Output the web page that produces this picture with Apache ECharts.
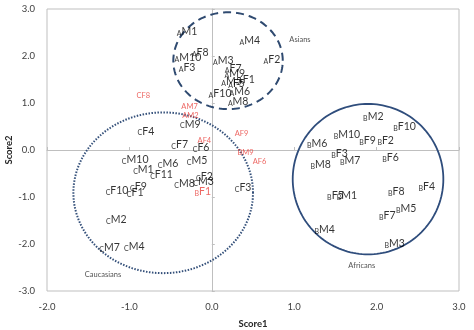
<!DOCTYPE html>
<html><head><meta charset="utf-8">
<script src="https://cdn.jsdelivr.net/npm/echarts@6/dist/echarts.min.js"></script>
<style>html,body{margin:0;padding:0;background:#fff}#c{width:474px;height:330px}</style>
</head><body><div id="c"></div>
<script>
// Axis ticks
const xTicks = [-2, -1, 0, 1, 2, 3];
const yTicks = [-3, -2, -1, 0, 1, 2, 3];

// Asian samples [score1, score2, label]
const asians = [
  [-0.30, 2.52, 'AM1'], [-0.14, 2.09, 'AF8'], [-0.29, 1.97, 'AM10'], [-0.30, 1.76, 'AF3'],
  [0.46, 2.34, 'AM4'], [0.73, 1.94, 'AF2'], [0.14, 1.91, 'AM3'], [0.26, 1.74, 'AF7'],
  [0.28, 1.63, 'AM9'], [0.42, 1.50, 'AF1'], [0.24, 1.47, 'AM5'], [0.30, 1.42, 'AF5'],
  [0.34, 1.26, 'AM6'], [0.10, 1.21, 'AF10'], [0.32, 1.04, 'AM8']
];
// Caucasian samples
const caucasians = [
  [-0.26, 0.56, 'CM9'], [-0.80, 0.41, 'CF4'], [-0.39, 0.12, 'CF7'], [-0.13, 0.06, 'CF6'],
  [-0.93, -0.20, 'CM10'], [-0.53, -0.28, 'CM6'], [-0.18, -0.21, 'CM5'], [-0.83, -0.40, 'CM1'],
  [-0.61, -0.51, 'CF11'], [-0.09, -0.55, 'CF2'], [-0.33, -0.71, 'CM8'], [-0.10, -0.67, 'CM3'],
  [-1.15, -0.85, 'CF10'], [-0.89, -0.77, 'CF9'], [-0.93, -0.90, 'CF1'], [0.38, -0.79, 'CF3'],
  [-1.16, -1.47, 'CM2'], [-1.24, -2.06, 'CM7'], [-0.94, -2.04, 'CM4']
];
// African samples
const africans = [
  [1.96, 0.72, 'BM2'], [2.34, 0.50, 'BF10'], [1.64, 0.34, 'BM10'], [1.89, 0.21, 'BF9'],
  [2.11, 0.20, 'BF2'], [1.28, 0.14, 'BM6'], [1.55, -0.07, 'BF3'], [1.68, -0.21, 'BM7'],
  [2.17, -0.16, 'BF6'], [1.32, -0.30, 'BM8'], [1.50, -0.96, 'BF5'], [1.64, -0.96, 'BM1'],
  [2.24, -0.87, 'BF8'], [2.61, -0.77, 'BF4'], [2.36, -1.24, 'BM5'], [2.13, -1.38, 'BF7'],
  [1.37, -1.68, 'BM4'], [2.22, -1.99, 'BM3']
];
// Misclassified samples (red)
const misfits = [
  [-0.83, 1.16, 'CF8'], [-0.27, 0.92, 'AM7'], [-0.26, 0.74, 'AM2'], [0.36, 0.36, 'AF9'],
  [-0.09, 0.21, 'AF4'], [0.41, -0.05, 'BM9'], [0.58, -0.25, 'AF6']
];
const misfitsLarge = [[-0.11, -0.87, 'BF1']];
// Group names
const groupLabels = [[1.07, 2.36, 'Asians'], [1.82, -2.46, 'Africans'], [-1.32, -2.64, 'Caucasians']];
// Group ellipses [cx, cy, rx, ry]
const ellAsian = [0.197, 1.90, 0.664, 1.03];
const ellCauc = [-0.59, -0.91, 1.09, 1.71];
const ellAfr = [1.896, -0.62, 0.914, 1.60];

const FONT = 'Lato, "Open Sans", sans-serif';
const toItems = arr => arr.map(d => ({ value: [d[0], d[1]], name: d[2] }));

function labelSeries(arr, color, big) {
  return {
    type: 'scatter', data: toItems(arr), symbolSize: 0, silent: true, z: 5,
    label: {
      show: true, position: 'inside', fontFamily: FONT,
      formatter: big ? (p => '{p|' + p.name[0] + '}{m|' + p.name.slice(1) + '}') : (p => '{s|' + p.name + '}'),
      rich: {
        p: { fontSize: 7, color: color, fontFamily: FONT, verticalAlign: 'bottom', lineHeight: 12 },
        m: { fontSize: 10.5, color: color, fontFamily: FONT, verticalAlign: 'bottom', lineHeight: 12 },
        s: { fontSize: 7.5, color: color, fontFamily: FONT }
      }
    }
  };
}

function ellipseSeries(e, style) {
  return {
    type: 'custom', silent: true, z: 3, data: [e],
    renderItem: function (params, api) {
      const cx = api.value(0), cy = api.value(1), rx = api.value(2), ry = api.value(3);
      const pts = [];
      for (let i = 0; i < 160; i++) {
        const t = i / 160 * Math.PI * 2;
        pts.push(api.coord([cx + rx * Math.cos(t), cy + ry * Math.sin(t)]));
      }
      return { type: 'polygon', shape: { points: pts }, style: Object.assign({ fill: 'none' }, style) };
    }
  };
}

const chart = echarts.init(document.getElementById('c'), null, { renderer: 'canvas' });
const axisLbl = { fontFamily: FONT, fontSize: 9.5, color: '#404040', formatter: v => v.toFixed(1) };
chart.setOption({
  backgroundColor: '#fff',
  animation: false,
  grid: { left: 47, right: 15, top: 9, bottom: 39, show: true, borderColor: '#bfbfbf', borderWidth: 1,
          containLabel: false, outerBoundsMode: 'none' },
  xAxis: [
    { type: 'value', min: xTicks[0], max: xTicks[xTicks.length - 1], interval: 1, position: 'bottom',
      axisLine: { show: false, onZero: false }, axisTick: { show: false }, splitLine: { show: false },
      axisLabel: Object.assign({ margin: 11 }, axisLbl),
      name: 'Score1', nameLocation: 'middle', nameGap: 28, nameMoveOverlap: false,
      nameTextStyle: { fontFamily: FONT, fontSize: 9.5, fontWeight: 'bold', color: '#262626' } },
    { type: 'value', min: xTicks[0], max: xTicks[xTicks.length - 1], interval: 1, position: 'top',
      axisLine: { show: true, onZero: true, lineStyle: { color: '#bfbfbf', width: 1 } },
      axisTick: { show: true, length: 3, lineStyle: { color: '#bfbfbf' } },
      axisLabel: { show: false }, splitLine: { show: false } }
  ],
  yAxis: [
    { type: 'value', min: yTicks[0], max: yTicks[yTicks.length - 1], interval: 1, position: 'left',
      axisLine: { show: false, onZero: false }, axisTick: { show: false }, splitLine: { show: false },
      axisLabel: Object.assign({ margin: 12 }, axisLbl),
      name: 'Score2', nameLocation: 'middle', nameGap: 33, nameMoveOverlap: false,
      nameTextStyle: { fontFamily: FONT, fontSize: 9.5, fontWeight: 'bold', color: '#262626' } },
    { type: 'value', min: yTicks[0], max: yTicks[yTicks.length - 1], interval: 1, position: 'right',
      axisLine: { show: true, onZero: true, lineStyle: { color: '#bfbfbf', width: 1 } },
      axisTick: { show: true, length: 3, lineStyle: { color: '#bfbfbf' } },
      axisLabel: { show: false }, splitLine: { show: false } }
  ],
  series: [
    ellipseSeries(ellAsian, { stroke: '#2f4a70', lineWidth: 2, lineDash: [8, 5] }),
    ellipseSeries(ellCauc, { stroke: '#34507a', lineWidth: 2, lineDash: [1.5, 1.5] }),
    ellipseSeries(ellAfr, { stroke: '#2f4d7c', lineWidth: 1.8 }),
    labelSeries(asians, '#000000', true),
    labelSeries(caucasians, '#000000', true),
    labelSeries(africans, '#000000', true),
    labelSeries(misfits, '#e8413c', false),
    labelSeries(misfitsLarge, '#e8413c', true),
    labelSeries(groupLabels, '#262626', false)
  ]
});
</script></body></html>
